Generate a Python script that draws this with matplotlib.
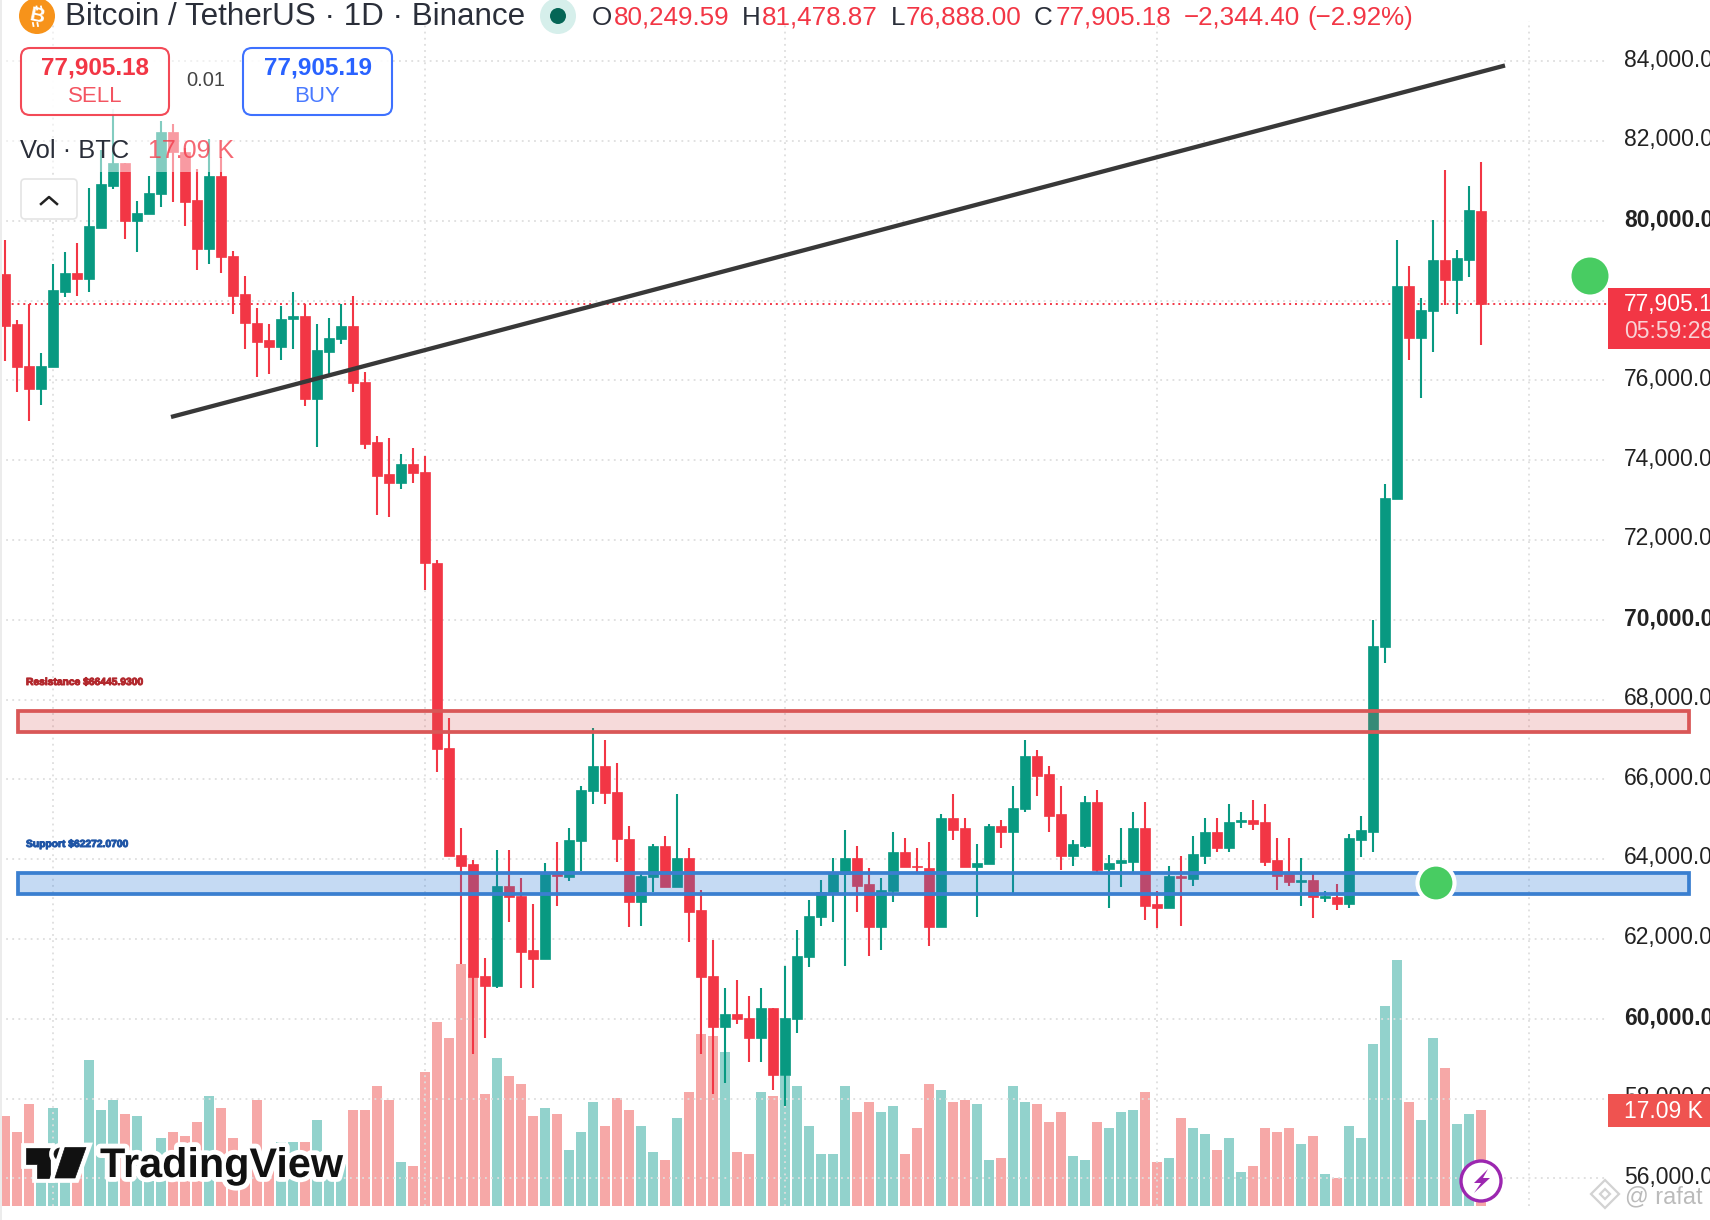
import matplotlib
matplotlib.use('Agg')
import matplotlib.pyplot as plt
import matplotlib.patheffects as pe
from matplotlib.patches import Circle, FancyBboxPatch, Polygon, Rectangle
from matplotlib.transforms import blended_transform_factory

plt.rcParams['font.family'] = ['Liberation Sans', 'DejaVu Sans']

# daily candles
opens = [78660, 77407, 76350, 75778, 76332, 78221, 78704, 78534, 79832, 80879,
         81461, 79984, 80181, 80683, 82222, 81730, 80521, 79286, 81121, 79107,
         78158, 77451, 77004, 76825, 77541, 77612, 75527, 76717, 77030, 77362,
         75957, 74453, 73647, 73423, 73898, 73701, 71424, 66781, 64114, 63873,
         61062, 60829, 63318, 63067, 61715, 61492, 63622, 63559, 64445, 65698,
         66325, 65672, 64517, 62933, 63550, 64320, 63291, 64025, 62727, 61062,
         59791, 60113, 60015, 59531, 60265, 58583, 59997, 61545, 62548, 63147,
         63640, 64025, 63371, 62297, 63192, 64177, 63837, 63774, 62297, 65027,
         64786, 63792, 63891, 64830, 64687, 65251, 66576, 66128, 65126, 64087,
         64338, 65430, 63756, 63908, 63935, 64786, 62879, 62789, 63586, 63514,
         64087, 64678, 64293, 64929, 64973, 64929, 63980, 63622, 63425, 63479,
         63031, 63058, 62888, 64490, 64687, 69315, 73020, 78355, 77075, 77729,
         79017, 78525, 79027, 80249.59]
closes = [77371, 76332, 75778, 76350, 78266, 78704, 78534, 79859, 80915, 81461,
          79984, 80208, 80700, 82222, 81730, 80477, 79286, 81121, 79089, 78122,
          77433, 76968, 76825, 77550, 77612, 75527, 76762, 77057, 77362, 75930,
          74417, 73611, 73423, 73898, 73674, 71424, 66755, 64087, 63837, 61044,
          60829, 63318, 63040, 61680, 61492, 63622, 63568, 64472, 65725, 66325,
          65654, 64499, 62933, 63577, 64320, 63291, 64025, 62682, 61044, 59791,
          60113, 59997, 59531, 60265, 58583, 60015, 61563, 62566, 63174, 63667,
          64025, 63335, 62297, 63219, 64177, 63792, 63792, 62297, 65027, 64741,
          63792, 63917, 64830, 64687, 65278, 66576, 66083, 65090, 64087, 64383,
          65430, 63738, 63917, 63971, 64786, 62834, 62789, 63577, 63541, 64132,
          64678, 64293, 64929, 64982, 64893, 63935, 63586, 63425, 63479, 63040,
          63085, 62888, 64535, 64723, 69333, 73047, 78355, 77075, 77755, 79017,
          78525, 79062, 80271, 77905.18]
highs = [79519, 77505, 77908, 76699, 78910, 79206, 79447, 80817, 81775, 82800,
         81461, 80504, 81121, 82508, 82419, 81819, 81309, 82061, 81596, 79250,
         78615, 77818, 77406, 77854, 78212, 77908, 77406, 77568, 77908, 78105,
         76207, 74596, 74551, 74148, 74300, 74095, 71500, 67533, 64786, 63980,
         61518, 64230, 64230, 63532, 62879, 63917, 64428, 64786, 65833, 67292,
         66987, 66423, 64830, 63667, 64383, 64580, 65627, 64275, 63219, 61966,
         60775, 60963, 60569, 60775, 60265, 61312, 62216, 62977, 63488, 64025,
         64732, 64320, 63774, 63532, 64678, 64535, 64275, 64428, 65126, 65627,
         65027, 64383, 64875, 64982, 65833, 66978, 66737, 66334, 65833, 64472,
         65582, 65725, 64114, 64786, 65179, 65430, 63192, 63828, 64069, 64580,
         65027, 65027, 65385, 65179, 65484, 65385, 64535, 64535, 64025, 63622,
         63192, 63380, 64624, 65081, 69995, 73405, 79519, 78865, 78060, 80020,
         81273, 79268, 80862, 81478.87]
lows = [76476, 75715, 74972, 75375, 76332, 78078, 78122, 78221, 79832, 80790,
        79537, 79223, 80181, 80342, 80477, 79877, 78776, 78928, 78686, 77675,
        76780, 76073, 76162, 76520, 76780, 75357, 74327, 76135, 76923, 75715,
        74274, 72618, 72573, 73271, 73423, 70747, 66191, 64087, 61384, 59128,
        59531, 60784, 62431, 60784, 60784, 61492, 62834, 63443, 63694, 65394,
        65394, 63935, 62297, 62324, 63174, 63291, 63291, 61921, 59128, 58117,
        58386, 59880, 58923, 58923, 58224, 57822, 59639, 61295, 62324, 62431,
        61321, 62682, 61581, 61724, 62933, 63792, 63667, 61832, 62297, 64490,
        63792, 62548, 63891, 64293, 63130, 65188, 65591, 64687, 63738, 63828,
        64293, 63667, 62789, 63291, 63667, 62485, 62279, 62789, 62324, 63335,
        63891, 64186, 64186, 64786, 64741, 63828, 63237, 63335, 62834, 62530,
        62933, 62727, 62789, 64043, 64186, 68917, 73020, 76520, 75571, 76717,
        77881, 77675, 78579, 76888]
# volume in thousands of BTC
volumes = [16.01, 13.14, 18.18, 8.16, 17.41, 6.89, 8.16, 25.96, 17.09, 18.88,
           16.33, 16.01, 6.89, 12.12, 13.14, 12.44, 14.92, 19.58, 17.41, 12.12,
           8.16, 18.88, 6.89, 11.35, 11.35, 11.35, 15.31, 6.89, 7.53, 17.09,
           17.09, 21.36, 18.88, 7.78, 7.08, 23.79, 32.72, 29.97, 43.11, 41.33,
           19.90, 26.34, 23.15, 21.75, 16.01, 17.41, 16.33, 9.95, 13.14, 18.49,
           14.22, 19.20, 17.09, 14.22, 9.57, 8.16, 15.63, 20.28, 30.61, 30.29,
           27.42, 9.57, 9.25, 20.28, 19.58, 23.15, 21.36, 14.22, 9.25, 9.25,
           21.36, 16.71, 18.49, 16.71, 17.79, 9.25, 13.90, 21.75, 20.66, 18.49,
           18.88, 18.18, 8.16, 8.55, 21.36, 18.49, 18.18, 14.92, 16.71, 8.86,
           8.16, 14.92, 13.90, 16.71, 17.09, 20.28, 7.78, 8.55, 15.63, 13.90,
           12.82, 9.95, 12.12, 5.99, 7.08, 13.90, 13.14, 13.90, 11.03, 12.44,
           5.68, 4.97, 14.22, 12.12, 28.89, 35.65, 43.88, 18.49, 15.31, 29.97,
           24.62, 14.60, 16.39, 17.09]

price_ticks = [84000, 82000, 80000, 78000, 76000, 74000, 72000, 70000, 68000,
               66000, 64000, 62000, 60000, 58000, 56000]
round_ticks = [80000, 70000, 60000]
month_lines = [4, 35, 65, 96, 127]
last_close = 77905.18
resistance = (67188, 67714)
support = (63128, 63654)

GREEN = '#089981'
RED = '#F23645'
BLUE = '#2962FF'
INK = '#2A2E39'

fig = plt.figure(figsize=(17.1, 12.2), dpi=100, facecolor='white')

# three stacked full-figure axes: volume, candles, pixel overlay for the UI bits
vol_ax = fig.add_axes([0, 0, 1, 1], zorder=1)
ax = fig.add_axes([0, 0, 1, 1], zorder=2, facecolor='none')
pix = fig.add_axes([0, 0, 1, 1], zorder=3, facecolor='none')
for a in (vol_ax, ax, pix):
    a.axis('off')

xlim = (-5 / 12, 1705 / 12)
vol_ax.set_xlim(xlim)
vol_ax.set_ylim(-2.55, 215.3)
ax.set_xlim(xlim)
ax.set_ylim(54957, 85534)
pix.set_xlim(0, 1710)
pix.set_ylim(1220, 0)

px_x = lambda p: (p - 5) / 12
idx = list(range(len(opens)))
up = [c >= o for o, c in zip(opens, closes)]

# grid
dots = dict(color='#DEDEDE', lw=1.3, ls=(0, (1, 2.4)))
for p in price_ticks:
    ax.plot([xlim[0], px_x(1605)], [p, p], zorder=0, **dots)
for m in month_lines:
    ax.plot([m, m], [55300, 85000], zorder=0, **dots)
ax.plot([xlim[0], px_x(1608)], [last_close, last_close], color=RED, lw=1.4,
        ls=(0, (1, 2)), zorder=1)

# volume
vol_ax.bar(idx, volumes, width=0.8,
           color=['#26A69A' if u else '#EF5350' for u in up], alpha=0.5, lw=0)

# candles
colors = [GREEN if u else RED for u in up]
ax.vlines(idx, lows, highs, colors=colors, lw=1.5, zorder=3)
ax.bar(idx, [abs(c - o) for o, c in zip(opens, closes)],
       bottom=[min(o, c) for o, c in zip(opens, closes)], width=0.78,
       color=colors, edgecolor=colors, lw=0.5, zorder=4)

# support and resistance zones
for (lo, hi), edge, fill, a_fill in [(resistance, '#D95757', '#D95757', 0.22),
                                     (support, '#3A7FD0', '#2F7BD6', 0.28)]:
    x0, x1 = px_x(18), px_x(1689)
    ax.add_patch(Rectangle((x0, lo), x1 - x0, hi - lo, facecolor=fill,
                           alpha=a_fill, lw=0, zorder=5))
    ax.add_patch(Rectangle((x0, lo), x1 - x0, hi - lo, facecolor='none',
                           edgecolor=edge, lw=2.7, zorder=6, joinstyle='miter'))

# trend line
pix.plot([171, 1505], [417, 65.5], color='#383838', lw=3.1, solid_capstyle='butt', zorder=2)

# left edge
pix.add_patch(Rectangle((0, 0), 2, 1220, color='#ECECEC', lw=0, zorder=1))

# faded backdrop behind the legend rows
pix.add_patch(Rectangle((2, 30), 238, 142, color='white', alpha=0.5, lw=0, zorder=1))

# header; the bitcoin sign is missing from the installed fonts, so B with two ticks
pix.add_patch(Circle((37, 16), 18, color='#F7931A', lw=0, zorder=3))
pix.text(37, 16.5, 'B', color='white', fontsize=15, fontweight='bold', rotation=-12,
         ha='center', va='center', zorder=4)
for tx in (36.5, 41):
    pix.plot([tx, tx + 0.6], [6.5, 9.5], color='white', lw=1.3, zorder=4)
    pix.plot([tx - 3.6, tx - 3], [23, 26], color='white', lw=1.3, zorder=4)
pix.text(65, 25, 'Bitcoin / TetherUS · 1D · Binance', color=INK, fontsize=22.6,
         va='baseline', zorder=4)
pix.add_patch(Circle((558, 16), 18, color='#D6EFEB', lw=0, zorder=3))
pix.add_patch(Circle((558, 16), 8, color='#056656', lw=0, zorder=4))

ohlc = [(592, 'O', INK), (614, '80,249.59', RED), (742, 'H', INK), (762, '81,478.87', RED),
        (891, 'L', INK), (906, '76,888.00', RED), (1034, 'C', INK), (1056, '77,905.18', RED),
        (1184, '\u22122,344.40', RED), (1307, '(\u22122.92%)', RED)]
for x, s, c in ohlc:
    pix.text(x, 25, s, color=c, fontsize=18.7, va='baseline', zorder=4)

# sell / buy buttons
for x0, x1, col, price, word in [(21, 169, RED, '77,905.18', 'SELL'),
                                 (243, 392, BLUE, '77,905.19', 'BUY')]:
    pix.add_patch(FancyBboxPatch((x0 + 8, 56), x1 - x0 - 16, 51,
                                 boxstyle='round,pad=8,rounding_size=9', facecolor='white',
                                 edgecolor=col, lw=1.5, alpha=0.9, zorder=5))
    pix.text((x0 + x1) / 2, 67.5, price, color=col, fontsize=17.5, fontweight='bold',
             ha='center', va='center', zorder=6)
    pix.text((x0 + x1) / 2, 96, word, color=col, fontsize=16, alpha=0.85,
             ha='center', va='center', zorder=6)
pix.text(206, 80, '0.01', color='#444444', fontsize=14.5, ha='center', va='center', zorder=6)

# volume legend and collapse button
pix.text(20, 158, 'Vol · BTC', color=INK, fontsize=18.4, va='baseline', zorder=6)
pix.text(148, 158, '17.09 K', color=RED, alpha=0.75, fontsize=18, va='baseline', zorder=6)
pix.add_patch(FancyBboxPatch((25, 183), 48, 32, boxstyle='round,pad=4,rounding_size=4',
                             facecolor='white', edgecolor='#E4E4E4', lw=1.2, zorder=5))
pix.plot([41, 49, 57], [204, 197, 204], color='#222222', lw=1.8, zorder=6)

# zone captions, blurred and heavy in the original
cap = dict(fontsize=7.4, fontweight='bold', va='center', zorder=7)
pix.text(26, 682, 'Resistance $66445.9300', color='#B2282D',
         path_effects=[pe.withStroke(linewidth=0.7, foreground='#B2282D')], **cap)
pix.text(26, 844, 'Support $62272.0700', color='#1F55A6',
         path_effects=[pe.withStroke(linewidth=0.7, foreground='#1F55A6')], **cap)

# price axis labels
label_tr = blended_transform_factory(pix.transData, ax.transData)
for p in price_ticks:
    pix.text(1624, p + 30, f'{p:,.2f}', transform=label_tr, fontsize=16.5, color='#222222',
             fontweight='bold' if p in round_ticks else 'normal', va='center',
             clip_on=False, zorder=4)

# last price tag and volume tag
pix.add_patch(Rectangle((1608, 288), 102, 61, color=RED, lw=0, zorder=5))
pix.text(1624, 304, '77,905.18', color='white', fontsize=16.5, va='center', zorder=6)
pix.text(1624, 331, '05:59:28', color='#F9D2D5', fontsize=16.5, va='center', zorder=6)
pix.add_patch(Rectangle((1608, 1094), 102, 33, color='#EF5350', lw=0, zorder=5))
pix.text(1624, 1111, '17.09 K', color='white', fontsize=16.5, va='center', zorder=6)

# green markers
pix.add_patch(Circle((1590, 276), 18.5, color='#48CC62', lw=0, zorder=7))
pix.add_patch(Circle((1436, 883), 18.5, facecolor='#48CC62', edgecolor='white', lw=3, zorder=7))

# TradingView logo
halo = [pe.withStroke(linewidth=7, foreground='white')]
mark = [Polygon([(26, 1147.5), (50, 1147.5), (50, 1178), (37, 1178), (37, 1163.5), (26, 1163.5)]),
        Circle((60, 1154), 6),
        Polygon([(65, 1147.5), (86, 1147.5), (75, 1178), (55, 1178)])]
for m in mark:
    m.set(facecolor='#111111', edgecolor='#111111', lw=0.5, zorder=9, path_effects=halo)
    pix.add_patch(m)
pix.text(100, 1177, 'TradingView', color='#111111', fontsize=29.8, fontweight='bold',
         va='baseline', zorder=9, path_effects=halo)

# lightning button
pix.add_patch(Circle((1481, 1181), 20, facecolor='white', edgecolor='#9C27B0', lw=2.4, zorder=8))
pix.add_patch(Polygon([(1488, 1169), (1474, 1183), (1481, 1183), (1474, 1193), (1490, 1178),
                       (1483, 1178)], color='#9C27B0', lw=0, zorder=9))

# watermark
pix.add_patch(Polygon([(1605, 1180), (1619, 1194), (1605, 1208), (1591, 1194)], facecolor='none',
                      edgecolor='#D2D2D2', lw=1.6, zorder=9))
pix.add_patch(Polygon([(1605, 1189), (1610, 1194), (1605, 1199), (1600, 1194)], facecolor='none',
                      edgecolor='#D2D2D2', lw=1.6, zorder=9))
pix.text(1625, 1203, '@ rafat', color='#BBBBBB', fontsize=16.8, va='baseline', zorder=9)

fig.savefig('out.png', dpi=100)
